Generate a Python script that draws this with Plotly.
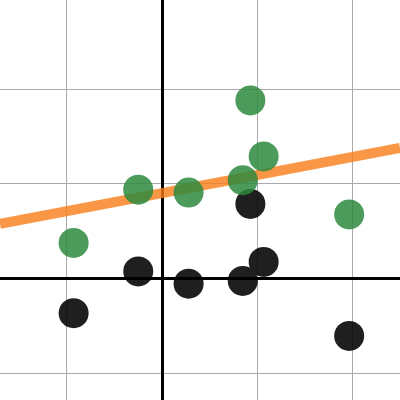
import plotly.graph_objects as go

bx = [-0.93, -0.25, 0.28, 0.85, 0.93, 1.07, 1.97]
by = [-0.36, 0.08, -0.05, -0.02, 0.79, 0.18, -0.60]
gx = [-0.93, -0.25, 0.28, 0.85, 0.93, 1.07, 1.97]
gy = [0.38, 0.94, 0.91, 1.04, 1.88, 1.29, 0.68]
lx = [-1.705, 2.505]
ly = [0.58, 1.38]

fig = go.Figure()
fig.add_trace(go.Scatter(x=lx, y=ly, mode="lines", line=dict(color="#fa7e19", width=10), opacity=0.8))
fig.add_trace(go.Scatter(x=bx, y=by, mode="markers", marker=dict(color="#000000", size=30), opacity=0.88))
fig.add_trace(go.Scatter(x=gx, y=gy, mode="markers", marker=dict(color="#2d8a3e", size=30), opacity=0.85))
ax = dict(showgrid=True, gridcolor="#aaaaaa", gridwidth=1, dtick=1, zeroline=True,
          zerolinecolor="black", zerolinewidth=3, showticklabels=False, ticks="")
fig.update_layout(width=400, height=400, margin=dict(l=0, r=0, t=0, b=0),
                  plot_bgcolor="white", paper_bgcolor="white", showlegend=False,
                  xaxis=dict(range=[-1.705, 2.505], **ax),
                  yaxis=dict(range=[-1.274, 2.937], **ax))
fig.write_html("out.html", config={"displayModeBar": False})
with open("out.html", encoding="utf-8") as f:
    html = f.read()
html = html.replace("<head>", "<head><style>html,body{margin:0;padding:0;overflow:hidden}</style>", 1)
with open("out.html", "w", encoding="utf-8") as f:
    f.write(html)
